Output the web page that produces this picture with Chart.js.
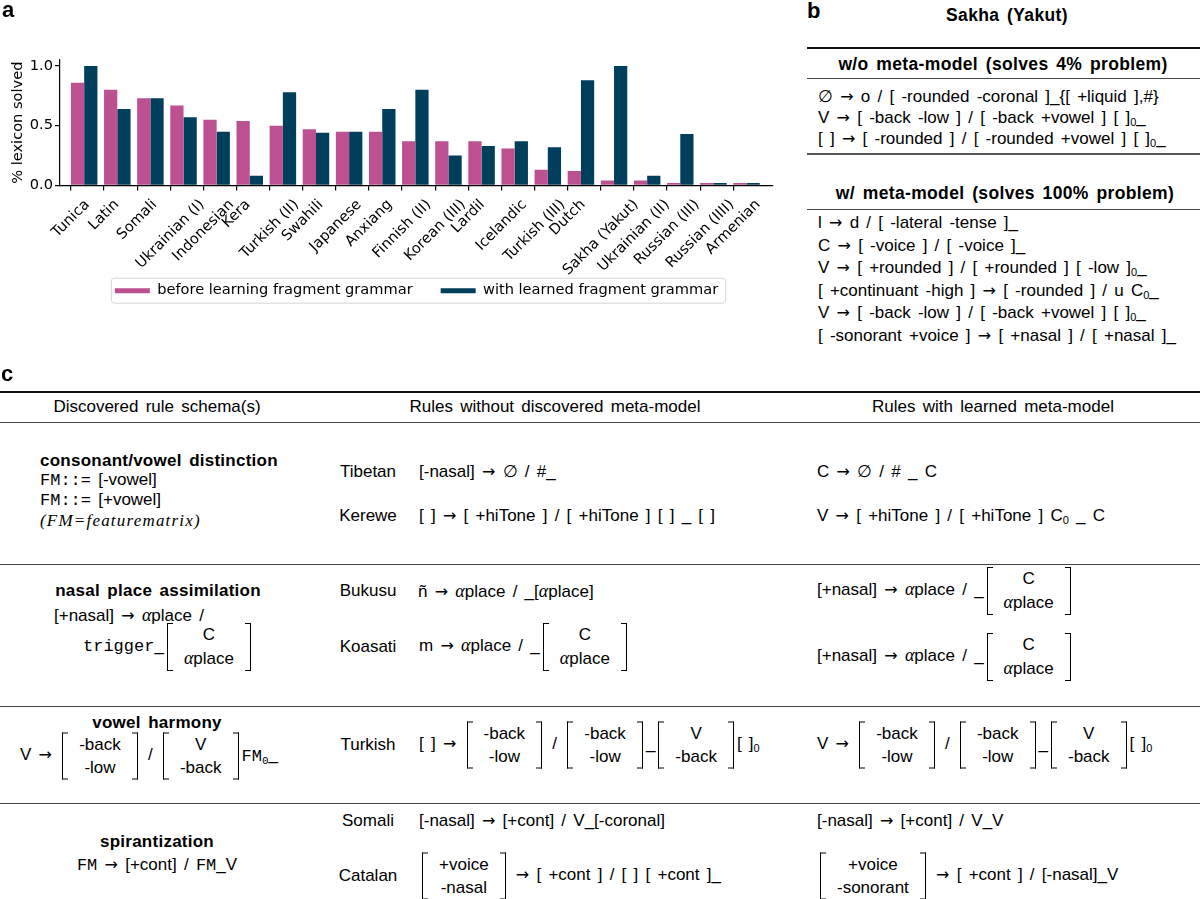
<!DOCTYPE html>
<html>
<head>
<meta charset="utf-8">
<script src="https://cdn.jsdelivr.net/npm/chart.js@4.4.1/dist/chart.umd.min.js"></script>
<style>
body { margin: 0; background: #fff; }
#page { position: relative; width: 1200px; height: 899px; overflow: hidden; font-family: "Liberation Sans", Arial, sans-serif; font-size: 17px; color: #000; }
#chart { position: absolute; left: 0; top: 0; }
.t { position: absolute; white-space: nowrap; line-height: 20px; transform: translateY(-50%); word-spacing: 2.5px; }
.c { transform: translate(-50%, -50%); }
.b { font-weight: bold; letter-spacing: 0.25px; }
.pb { font-size: 17.5px; letter-spacing: 0.35px; }
.panel { position: absolute; font-weight: bold; font-size: 22px; line-height: 22px; }
.rule { position: absolute; height: 0; border-top: 1.3px solid #444; }
.heavy { border-top: 2px solid #111; }
.tt { font-family: "Liberation Mono", monospace; font-size: 17px; word-spacing: 0; }
.m { font-family: "Liberation Serif", serif; font-style: italic; font-size: 18px; }
.it { font-family: "Liberation Serif", serif; font-style: italic; font-size: 17px; letter-spacing: 1.2px; }
.ar { font-family: "DejaVu Sans", sans-serif; font-size: 16px; }
sub { font-size: 11px; vertical-align: -3px; line-height: 0; }
.mat { display: inline-flex; flex-direction: column; align-items: center; vertical-align: middle; position: relative; padding: 1px 17px; line-height: 22.5px; margin: 0 3px; word-spacing: 0; }
.mat::before, .mat::after { content: ''; position: absolute; top: 0; bottom: 0; width: 5px; border: 1.2px solid #000; }
.mat::before { left: 0; border-right: 0; }
.mat::after { right: 0; border-left: 0; }
</style>
</head>
<body>
<div id="page">
<canvas id="chart" width="790" height="326"></canvas>

<div class="panel" style="left:2px;top:-1px;">a</div>
<div class="panel" style="left:807px;top:0px;">b</div>
<div class="panel" style="left:1px;top:363px;">c</div>

<!-- panel b -->
<div class="t c b pb" style="left:1007px;top:15px;">Sakha (Yakut)</div>
<div class="rule heavy" style="left:807px;width:393px;top:47px;"></div>
<div class="t c b pb" style="left:1003px;top:64px;">w/o meta-model (solves 4% problem)</div>
<div class="rule" style="left:807px;width:393px;top:78px;"></div>
<div class="t" style="left:818px;top:97px;">∅ → o / [ -rounded -coronal ]_{[ +liquid ],#}</div>
<div class="t" style="left:818px;top:118px;">V → [ -back -low ] / [ -back +vowel ] [ ]<sub>0</sub>_</div>
<div class="t" style="left:818px;top:139px;">[ ] → [ -rounded ] / [ -rounded +vowel ] [ ]<sub>0</sub>_</div>
<div class="rule heavy" style="left:807px;width:393px;top:153px;border-color:#555;"></div>

<div class="t c b pb" style="left:1005px;top:193px;">w/ meta-model (solves 100% problem)</div>
<div class="rule" style="left:807px;width:393px;top:209px;"></div>
<div class="t" style="left:818px;top:223px;">l → d / [ -lateral -tense ]_</div>
<div class="t" style="left:818px;top:246px;">C → [ -voice ] / [ -voice ]_</div>
<div class="t" style="left:818px;top:268px;">V → [ +rounded ] / [ +rounded ] [ -low ]<sub>0</sub>_</div>
<div class="t" style="left:818px;top:291px;">[ +continuant -high ] → [ -rounded ] / u C<sub>0</sub>_</div>
<div class="t" style="left:818px;top:313px;">V → [ -back -low ] / [ -back +vowel ] [ ]<sub>0</sub>_</div>
<div class="t" style="left:818px;top:336px;">[ -sonorant +voice ] → [ +nasal ] / [ +nasal ]_</div>

<!-- panel c -->
<div class="rule heavy" style="left:0;width:1200px;top:391px;"></div>
<div class="t c" style="left:157px;top:407px;">Discovered rule schema(s)</div>
<div class="t c" style="left:555px;top:407px;">Rules without discovered meta-model</div>
<div class="t c" style="left:993px;top:407px;">Rules with learned meta-model</div>
<div class="rule" style="left:0;width:1200px;top:422px;"></div>

<div class="t b" style="left:40px;top:461px;">consonant/vowel distinction</div>
<div class="t" style="left:40px;top:480px;"><span class="tt">FM::=</span> [-vowel]</div>
<div class="t" style="left:40px;top:500px;"><span class="tt">FM::=</span> [+vowel]</div>
<div class="t it" style="left:40px;top:521px;">(FM=featurematrix)</div>
<div class="t c" style="left:368px;top:472px;">Tibetan</div>
<div class="t c" style="left:368px;top:516px;">Kerewe</div>
<div class="t" style="left:419px;top:472px;">[-nasal] → ∅ / #_</div>
<div class="t" style="left:419px;top:516px;">[ ] → [ +hiTone ] / [ +hiTone ] [ ] _ [ ]</div>
<div class="t" style="left:817px;top:472px;">C → ∅ / # _ C</div>
<div class="t" style="left:817px;top:516px;">V → [ +hiTone ] / [ +hiTone ] C<sub>0</sub> _ C</div>
<div class="rule" style="left:0;width:1200px;top:564px;"></div>

<div class="t c b" style="left:158px;top:591px;">nasal place assimilation</div>
<div class="t" style="left:54px;top:615px;">[+nasal] → <span class="m">α</span>place /</div>
<div class="t" style="left:83px;top:647px;"><span class="tt">trigger</span>_<span class="mat"><span>C</span><span><span class="m">α</span>place</span></span></div>
<div class="t c" style="left:368px;top:591px;">Bukusu</div>
<div class="t c" style="left:368px;top:647px;">Koasati</div>
<div class="t" style="left:418px;top:591px;">ñ → <span class="m">α</span>place / _[<span class="m">α</span>place]</div>
<div class="t" style="left:419px;top:647px;">m → <span class="m">α</span>place / _<span class="mat"><span>C</span><span><span class="m">α</span>place</span></span></div>
<div class="t" style="left:817px;top:591px;">[+nasal] → <span class="m">α</span>place / _<span class="mat"><span>C</span><span><span class="m">α</span>place</span></span></div>
<div class="t" style="left:817px;top:657px;">[+nasal] → <span class="m">α</span>place / _<span class="mat"><span>C</span><span><span class="m">α</span>place</span></span></div>
<div class="rule" style="left:0;width:1200px;top:706px;"></div>

<div class="t c b" style="left:157px;top:723px;">vowel harmony</div>
<div class="t" style="left:20px;top:756px;">V → <span class="mat"><span>-back</span><span>-low</span></span> / <span class="mat"><span>V</span><span>-back</span></span><span class="tt">FM<sub>0</sub></span>_</div>
<div class="t c" style="left:368px;top:745px;">Turkish</div>
<div class="t" style="left:419px;top:745px;">[ ] → <span class="mat"><span>-back</span><span>-low</span></span> / <span class="mat"><span>-back</span><span>-low</span></span>_<span class="mat"><span>V</span><span>-back</span></span>[ ]<sub>0</sub></div>
<div class="t" style="left:817px;top:745px;">V → <span class="mat"><span>-back</span><span>-low</span></span> / <span class="mat"><span>-back</span><span>-low</span></span>_<span class="mat"><span>V</span><span>-back</span></span>[ ]<sub>0</sub></div>
<div class="rule" style="left:0;width:1200px;top:803px;"></div>

<div class="t c b" style="left:157px;top:842px;">spirantization</div>
<div class="t c" style="left:157px;top:865px;"><span class="tt">FM</span> → [+cont] / <span class="tt">FM</span>_V</div>
<div class="t c" style="left:368px;top:821px;">Somali</div>
<div class="t c" style="left:368px;top:876px;">Catalan</div>
<div class="t" style="left:419px;top:821px;">[-nasal] → [+cont] / V_[-coronal]</div>
<div class="t" style="left:419px;top:876px;"><span class="mat"><span>+voice</span><span>-nasal</span></span> → [ +cont ] / [ ] [ +cont ]_</div>
<div class="t" style="left:817px;top:821px;">[-nasal] → [+cont] / V_V</div>
<div class="t" style="left:817px;top:876px;"><span class="mat"><span>+voice</span><span>-sonorant</span></span> → [ +cont ] / [-nasal]_V</div>
</div>

<script>
// wider arrows, closer to the LaTeX ones
document.querySelectorAll(".t").forEach(el => {
  el.innerHTML = el.innerHTML.replace(/→/g, '<span class="ar">→</span>');
});

const categories = ["Tunica", "Latin", "Somali", "Ukrainian (I)", "Indonesian", "Kera", "Turkish (II)", "Swahili", "Japanese", "Anxiang", "Finnish (II)", "Korean (III)", "Lardil", "Icelandic", "Turkish (III)", "Dutch", "Sakha (Yakut)", "Ukrainian (II)", "Russian (III)", "Russian (IIII)", "Armenian"];
const beforeLearning = [0.86, 0.80, 0.73, 0.67, 0.55, 0.54, 0.50, 0.47, 0.45, 0.45, 0.37, 0.37, 0.37, 0.31, 0.13, 0.12, 0.04, 0.04, 0.02, 0.02, 0.02];
const withLearned = [1.00, 0.64, 0.73, 0.57, 0.45, 0.08, 0.78, 0.44, 0.45, 0.64, 0.80, 0.25, 0.33, 0.37, 0.32, 0.88, 1.00, 0.08, 0.43, 0.02, 0.02];
const yTicks = [0, 0.5, 1.0];

const FONT_SIZE = 14.6;
const tickFont = { family: "DejaVu Sans", size: FONT_SIZE };

// matplotlib style rotated labels, centred on the tick
const tickLabels = {
  id: "tickLabels",
  afterDraw(chart) {
    const ctx = chart.ctx;
    const x = chart.scales.x;
    const bottom = chart.chartArea.bottom;
    ctx.save();
    ctx.font = FONT_SIZE + "px 'DejaVu Sans'";
    ctx.fillStyle = "#000";
    ctx.textAlign = "center";
    ctx.textBaseline = "middle";
    categories.forEach((name, i) => {
      const w = ctx.measureText(name).width;
      const half = (w + FONT_SIZE * 1.16) * Math.SQRT1_2 / 2;
      ctx.save();
      ctx.translate(x.getPixelForValue(i), bottom + 11 + half);
      ctx.rotate(-Math.PI / 4);
      ctx.fillText(name, 0, 0);
      ctx.restore();
    });

    // frame round the legend
    const boxes = chart.legend.legendHitBoxes;
    if (boxes.length) {
      const first = boxes[0];
      const last = boxes[boxes.length - 1];
      const cy = first.top + first.height / 2;
      const left = first.left - 4;
      const right = last.left + last.width + 7;
      ctx.strokeStyle = "#d5d5d5";
      ctx.lineWidth = 1;
      ctx.beginPath();
      ctx.roundRect(left + 0.5, cy - 12.5, right - left, 25, 3);
      ctx.stroke();
    }
    ctx.restore();
  }
};

const ctx = document.getElementById("chart").getContext("2d");
const chart = new Chart(ctx, {
  type: "bar",
  data: {
    datasets: [{
        label: "before learning fragment grammar",
        data: beforeLearning.map((v, i) => ({ x: i + 0.4, y: v })),
        backgroundColor: "#bc5090",
        borderWidth: 0
      }, {
        label: "with learned fragment grammar",
        data: withLearned.map((v, i) => ({ x: i + 0.4, y: v })),
        backgroundColor: "#003f5c",
        borderWidth: 0
      }]
  },
  options: {
    responsive: false,
    animation: false,
    devicePixelRatio: 1,
    categoryPercentage: 0.8,
    barPercentage: 1.0,
    layout: { padding: { top: 60, left: 0, right: 17, bottom: 18 } },
    scales: {
      x: {
        type: "linear",
        offset: false,
        min: -0.33,
        max: 21.2,
        afterBuildTicks: (scale) => { scale.ticks = categories.map((c, i) => ({ value: i })); },
        afterFit: (scale) => { scale.height = 70; },
        ticks: { display: false },
        grid: { offset: false, drawOnChartArea: false, drawTicks: true, tickLength: 5, color: "#000", lineWidth: 1.2 },
        border: { display: true, color: "#000", width: 1.2 }
      },
      y: {
        min: 0,
        max: 1.05,
        afterBuildTicks: (scale) => { scale.ticks = yTicks.map(v => ({ value: v })); },
        afterFit: (scale) => { scale.width = 60; },
        ticks: { color: "#000", font: tickFont, padding: 2, callback: (v) => v.toFixed(1) },
        grid: { drawOnChartArea: false, drawTicks: true, tickLength: 5, color: "#000", lineWidth: 1.2 },
        border: { display: true, color: "#000", width: 1.2 },
        title: { display: true, text: "% lexicon solved", color: "#000", font: tickFont, padding: { top: 9, bottom: 0 } }
      }
    },
    plugins: {
      legend: {
        position: "bottom",
        fullSize: false,
        labels: { boxWidth: 35, boxHeight: 5, padding: 28, color: "#000", font: tickFont }
      },
      tooltip: { enabled: false }
    }
  },
  plugins: [tickLabels]
});
</script>
</body>
</html>
